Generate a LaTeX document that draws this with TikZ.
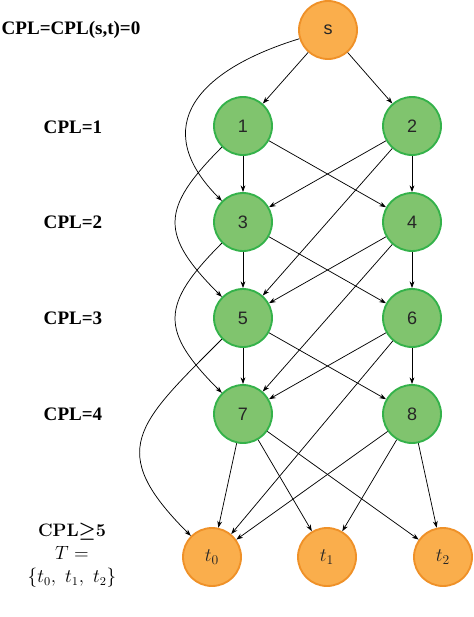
\documentclass[tikz,border=0pt]{standalone}
\usepackage{amsmath}
\usepackage{fontspec}
\newfontfamily\timesfont{Liberation Serif}
\newfontfamily\arialfont{Liberation Sans}
\usetikzlibrary{arrows.meta}

\definecolor{grnfill}{HTML}{80C46E}
\definecolor{grnline}{HTML}{34B24A}
\definecolor{orgfill}{HTML}{FAAE4C}
\definecolor{orgline}{HTML}{EF9128}

\begin{document}
\begin{tikzpicture}[x=0.75pt, y=-0.75pt,
		vtx/.style={circle, draw=grnline, fill=grnfill, line width=1.4pt,
			minimum size=43.5pt, inner sep=0pt, text=black!85,
			font=\arialfont\fontsize{13.5}{16}\selectfont},
		term/.style={vtx, draw=orgline, fill=orgfill},
		lvl/.style={font=\timesfont\bfseries\fontsize{14.3}{17}\selectfont},
		arr/.style={-{Stealth[length=5pt, width=3.6pt]}, line width=0.55pt}]
		\useasboundingbox (0,0) rectangle (474,617);
		% levels
		\node [lvl] (lvl0) at (71,30) {CPL=CPL(s,t)=0};
		\node [lvl] (lvl1) at (73,127) {CPL=1};
		\node [lvl] (lvl2) at (73,222) {CPL=2};
		\node [lvl] (lvl3) at (73,318) {CPL=3};
		\node [lvl] (lvl4) at (73,414) {CPL=4};
		\node [align=center, font=\fontsize{13.5}{17.3}\selectfont] (lvl5) at (72,555)
			{\textbf{CPL}{\boldmath$\geq$}\textbf{5}\\ $T=$\\ $\{t_0,\ t_1,\ t_2\}$};
		% vertices
		\node [term] (s) at (328,30) {s};
		\node [vtx] (n1) at (243,126) {1};
		\node [vtx] (n2) at (412,126) {2};
		\node [vtx] (n3) at (243,222) {3};
		\node [vtx] (n4) at (412,222) {4};
		\node [vtx] (n5) at (243,318) {5};
		\node [vtx] (n6) at (412,318) {6};
		\node [vtx] (n7) at (243,414) {7};
		\node [vtx] (n8) at (412,414) {8};
		\node [term, font=\fontsize{14.5}{16}\selectfont] (t0) at (212,557) {$t_0$};
		\node [term, font=\fontsize{14.5}{16}\selectfont] (t1) at (327,557) {$t_1$};
		\node [term, font=\fontsize{14.5}{16}\selectfont] (t2) at (443,557) {$t_2$};
		% edges
		\foreach \a/\b in {s/n1, s/n2, n1/n3, n1/n4, n2/n3, n2/n4, n2/n5, n3/n5, n3/n6,
			n4/n5, n4/n6, n4/n7, n5/n7, n5/n8, n6/n7, n6/n8, n6/t0, n7/t0, n7/t1, n7/t2,
			n8/t0, n8/t1, n8/t2}
			\draw [arr] (\a) -- (\b);
		\draw [arr] (s) to [out=197, in=135, looseness=1.5] (n3);
		\draw [arr] (n1) to [out=225, in=135, looseness=1.5] (n5);
		\draw [arr] (n3) to [out=225, in=135, looseness=1.5] (n7);
		\draw [arr] (n5) to [out=225, in=135, looseness=1.55] (t0);
	\end{tikzpicture}
\end{document}
